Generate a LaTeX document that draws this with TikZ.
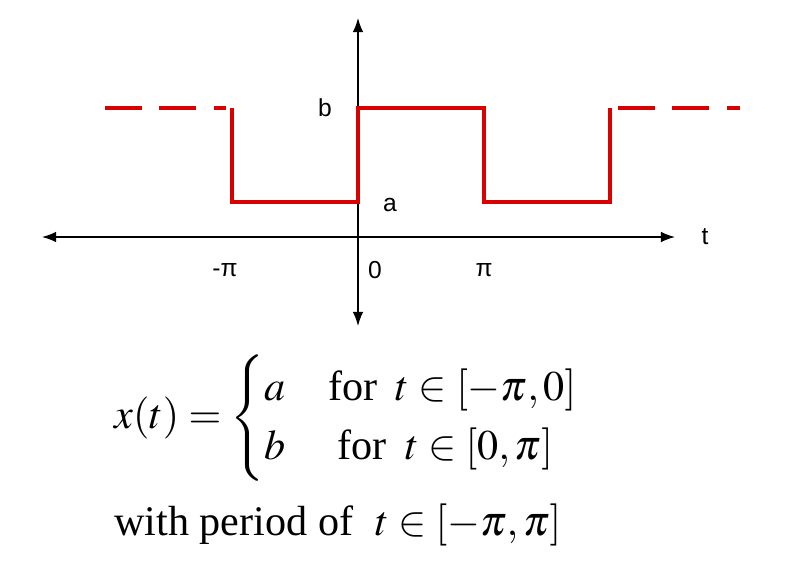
\documentclass[tikz,border=0pt]{standalone}
\usepackage{amsmath}
\usepackage{mathptmx}
\usepackage{fontspec}
\setmainfont{Liberation Serif}
\newfontfamily\arial{Liberation Sans}
\usetikzlibrary{arrows.meta}
\tikzset{
  wave/.style={red!85!black, line width=1.8pt},
  lbl/.style={font=\arial\fontsize{14}{16}\selectfont},
}
\begin{document}
\begin{tikzpicture}[x=0.02cm,y=-0.02cm]
	\useasboundingbox (0,0) rectangle (810,578);
	% axes
	\draw[{Latex[length=8pt]}-{Latex[length=8pt]}, thick] (42,237) -- (675,237);
	\draw[{Latex[length=8pt]}-{Latex[length=8pt]}, thick] (358,18) -- (358,326);
	\node[lbl] (t) at (705,237) {t};
	\node[lbl] (mpi) at (225,270) {-π};
	\node[lbl] (zero) at (375,270) {0};
	\node[lbl] (pi) at (484,270) {π};
	\node[lbl] (b) at (325,108) {b};
	\node[lbl] (a) at (390,205) {a};
	% square wave
	\draw[wave, dash pattern=on 21pt off 10pt] (105,108) -- (226,108);
	\draw[wave] (232,108) -- (232,202) -- (358,202) -- (358,108) -- (484,108)
		-- (484,202) -- (610,202) -- (610,108);
	\draw[wave, dash pattern=on 21pt off 10pt] (618,108) -- (740,108);
	% formula
	\node[anchor=west, font=\fontsize{24}{28}\selectfont] (eq) at (108,418)
		{$x(t)=\begin{cases} a \quad \text{for}\;\; t\in[-\pi,0]\\ b \quad \;\text{for}\;\; t\in[0,\pi]\end{cases}$};
	\node[anchor=west, font=\fontsize{24}{28}\selectfont] (per) at (108,525)
		{with period of \;$t\in[-\pi,\pi]$};
\end{tikzpicture}
\end{document}
